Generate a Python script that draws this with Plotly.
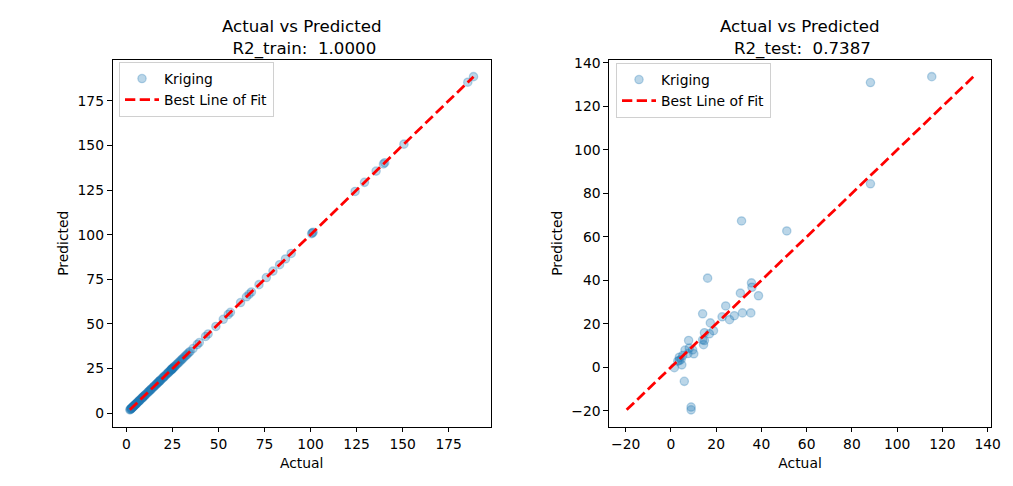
import plotly.graph_objects as go

# ---------------- data ----------------
# Left panel: training set (Kriging reproduces training points exactly, R2 = 1.0000)
train_actual = [
    188.5, 185.4, 150.7, 140.3, 139.6, 135.6, 129.3, 124.2, 101.4, 101.0,
    100.6, 89.5, 86.4, 83.2, 79.6, 76.0, 72.0, 67.9, 66.6, 65.2,
    62.0, 56.5, 55.3, 52.6, 48.6, 44.4, 43.0, 39.6, 38.5, 36.2,
    34.6, 33.9, 33.1, 32.5, 31.8, 31.0, 30.4, 29.9, 29.3, 28.7,
    28.1, 27.6, 27.0, 26.4, 25.9, 25.3, 24.8, 24.4, 24.0, 23.5,
    23.0, 22.4, 21.8, 21.2, 20.7, 20.1, 19.6, 19.0, 18.5, 18.0,
    17.4, 16.9, 16.3, 15.8, 15.2, 14.7, 14.1, 13.6, 13.0, 12.5,
    11.9, 11.4, 10.8, 10.3, 9.8, 9.3, 8.8, 8.3, 7.9, 7.4,
    7.0, 6.5, 6.1, 5.7, 5.3, 4.9, 4.5, 4.1, 3.7, 3.3,
    3.0, 2.7, 2.4, 2.1, 1.9, 24.6, 24.9, 25.1, 22.8, 20.3,
    18.2, 16.5, 15.0, 12.2, 10.1, 8.6, 6.8, 5.5, 4.3, 3.5,
    2.8, 26.0, 24.2, 17.6, 13.3, 9.0, 7.2, 5.0, 3.9, 2.5,
]
train_pred = list(train_actual)  # identical to the actual values (R2_train = 1.0000)

# Right panel: test set
test_actual = [
    88.2, 115.3, 88.2, 31.2, 51.2, 16.2, 35.6, 35.8, 30.7, 38.7,
    24.2, 22.6, 25.9, 28.0, 31.6, 35.3, 14.0, 17.4, 18.8, 17.0,
    14.8, 14.0, 14.8, 14.4, 7.8, 6.2, 9.6, 10.1, 8.1, 3.7,
    3.0, 4.5, 5.2, 3.7, 4.8, 1.5, 5.9, 8.9, 8.9, 7.5,
]
test_pred = [
    131.0, 133.7, 84.4, 67.3, 62.7, 41.0, 38.8, 36.8, 34.1, 32.9,
    28.2, 23.2, 21.9, 23.7, 25.0, 25.0, 24.6, 20.4, 16.8, 15.4,
    15.9, 12.6, 12.3, 10.4, 12.3, 7.9, 8.0, 6.2, 8.8, 3.1,
    2.8, 3.6, 5.4, 4.6, 1.1, -0.2, -6.5, -18.3, -19.6, 6.3,
]

titles = ["Actual vs Predicted<br>\u00a0R2_train:\u00a0\u00a01.0000",
          "Actual vs Predicted<br>\u00a0R2_test:\u00a0\u00a00.7387"]
left_ticks = [0, 25, 50, 75, 100, 125, 150, 175]
right_ticks = [-20, 0, 20, 40, 60, 80, 100, 120, 140]
scatter_label = "Kriging"
line_label = "Best Line of Fit"
x_label = "Actual"
y_label = "Predicted"

# ---------------- styling ----------------
W, H = 1013, 486
OX, OY = 8, 8  # page body margin offset
FONT = "DejaVu Sans"
MARKER_RGBA = "rgba(31,119,180,0.3)"
PT = 100 / 72.0
tick_font = dict(family=FONT, size=10 * PT, color="black")
dash = f"{3.7 * 2 * PT:.1f}px,{1.6 * 2 * PT:.1f}px"


def px(X):
    return (X - OX) / W


def py(Y):
    return 1 - (Y - OY) / H


def span(a, b):
    lo = min(min(a), min(b))
    hi = max(max(a), max(b))
    m = (hi - lo) * 0.05
    return lo, hi, [lo - m, hi + m]


AX_L = [(112.7, 490.7), (609.3, 990.7)]
AX_TOP, AX_BOT = 60, 426.5

fig = go.Figure()

panels = [
    (train_actual, train_pred, "x", "y", "legend", left_ticks),
    (test_actual, test_pred, "x2", "y2", "legend2", right_ticks),
]

for i, (xa, ya, xr, yr, lg, ticks) in enumerate(panels):
    lo, hi, rng = span(xa, ya)
    fig.add_trace(go.Scatter(
        x=xa, y=ya, mode="markers", name=scatter_label,
        xaxis=xr, yaxis=yr, legend=lg,
        marker=dict(color=MARKER_RGBA, size=8.3,
                    line=dict(width=1.3, color=MARKER_RGBA)),
    ))
    fig.add_trace(go.Scatter(
        x=[lo, hi], y=[lo, hi], mode="lines", name=line_label,
        xaxis=xr, yaxis=yr, legend=lg,
        line=dict(color="red", width=2 * PT, dash=dash),
    ))
    ax = dict(
        range=rng, tickvals=ticks, ticks="outside", ticklen=3.5 * PT, tickwidth=0.8 * PT,
        tickcolor="black", showline=True, linecolor="black", linewidth=0.8 * PT,
        mirror=True, showgrid=False, zeroline=False, tickfont=tick_font,
        automargin=False,
    )
    fig.layout["xaxis" + ("" if i == 0 else "2")] = dict(
        ax, domain=[px(AX_L[i][0]), px(AX_L[i][1])],
        anchor=yr,
        title=dict(text=x_label, font=tick_font, standoff=7),
    )
    fig.layout["yaxis" + ("" if i == 0 else "2")] = dict(
        ax, domain=[py(AX_BOT), py(AX_TOP)], anchor=xr,
        title=dict(text=y_label, font=tick_font, standoff=5),
    )

# titles
for (a, b), t in zip(AX_L, titles):
    fig.add_annotation(
        text=t, x=px((a + b) / 2), y=py(AX_TOP + 0.5), xref="paper", yref="paper",
        xanchor="center", yanchor="bottom", showarrow=False,
        font=dict(family=FONT, size=12 * PT, color="black"),
    )

leg_common = dict(
    xanchor="left", yanchor="top", bgcolor="rgba(255,255,255,0.8)",
    bordercolor="#d0d0d0", borderwidth=1, font=tick_font,
    itemwidth=34,
)
fig.update_layout(
    width=W, height=H,
    margin=dict(l=0, r=0, t=0, b=0, autoexpand=False),
    paper_bgcolor="white", plot_bgcolor="white",
    font=dict(family=FONT, color="black"),
    showlegend=True,
    legend=dict(leg_common, x=px(119), y=py(62)),
    legend2=dict(leg_common, x=px(616), y=py(63)),
)

fig.write_html("out.html")
